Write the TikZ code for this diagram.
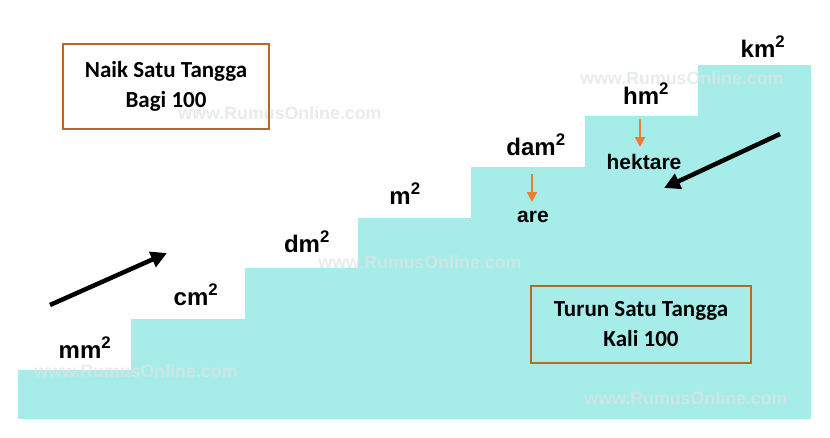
\documentclass[tikz,border=0pt]{standalone}
\usepackage{fontspec}
\setmainfont{Liberation Sans}
\newfontfamily\boxfont{Carlito}
\usetikzlibrary{positioning}
\usetikzlibrary{arrows.meta}
\definecolor{stepcyan}{RGB}{166,236,232}
\definecolor{boxbrown}{RGB}{184,104,42}
\definecolor{notearrow}{RGB}{237,125,49}
\definecolor{markgray}{RGB}{222,228,228}

\begin{document}
\begin{tikzpicture}[x=1pt,y=-1pt,
    unit/.style={anchor=base, font=\bfseries\fontsize{24}{28}\selectfont},
    note/.style={anchor=base, font=\bfseries\fontsize{21}{24}\selectfont},
    rulebox/.style={draw=boxbrown, line width=1.6pt, align=center,
        font=\boxfont\bfseries\fontsize{23}{30}\selectfont},
    watermark/.style={text=markgray, opacity=0.7,
        font=\bfseries\fontsize{17.8}{20}\selectfont},
    bigarrow/.style={-{Triangle[length=16pt,width=16pt]}, line width=4.5pt},
    smallarrow/.style={-{Triangle[length=10pt,width=10pt]}, line width=2.8pt, notearrow}]

    % Canvas
    \fill[white] (0,0) rectangle (830,437);
    \useasboundingbox (0,0) rectangle (830,437);

    % Staircase (one block per step)
    \foreach \i in {0,...,6} {
        \fill[stepcyan] (18+113.3*\i,370-50.8*\i) rectangle (811,419);
    }

    % Watermarks
    \foreach \x/\y in {682/78, 280/113, 420/262, 136/371, 686/398} {
        \node[watermark] at (\x,\y) {www.RumusOnline.com};
    }

    % Unit labels on the steps
    \foreach \name/\unitname/\x/\y in {mm/mm/85/358, cm/cm/196/305, dm/dm/307/252,
        m/m/405/204, dam/dam/536/155, hm/hm/646/104, km/km/763/57} {
        \node[unit] (\name) at (\x,\y) {\unitname\textsuperscript{2}};
    }

    % Special names
    \node[note] (are) at (533,222) {are};
    \node[note] (hektare) at (644,169) {hektare};
    \coordinate (are-top) at (532,174);
    \coordinate (are-tip) at (532,202);
    \coordinate (hek-top) at (640,119);
    \coordinate (hek-tip) at (640,147);
    \draw[smallarrow] (are-top) -- (are-tip);
    \draw[smallarrow] (hek-top) -- (hek-tip);

    % Going up / going down
    \coordinate (up-tail) at (50,305);
    \coordinate (up-tip) at (167,253);
    \coordinate (down-tail) at (780,134);
    \coordinate (down-tip) at (664,188);
    \draw[bigarrow] (up-tail) -- (up-tip);
    \draw[bigarrow] (down-tail) -- (down-tip);

    % Rule boxes
    \node[rulebox, minimum width=206pt, minimum height=85pt] (upbox) at (166,86.5)
        {Naik Satu Tangga\\Bagi 100};
    \node[rulebox, minimum width=220pt, minimum height=77pt] (downbox) at (641,324.5)
        {Turun Satu Tangga\\Kali 100};
\end{tikzpicture}
\end{document}
